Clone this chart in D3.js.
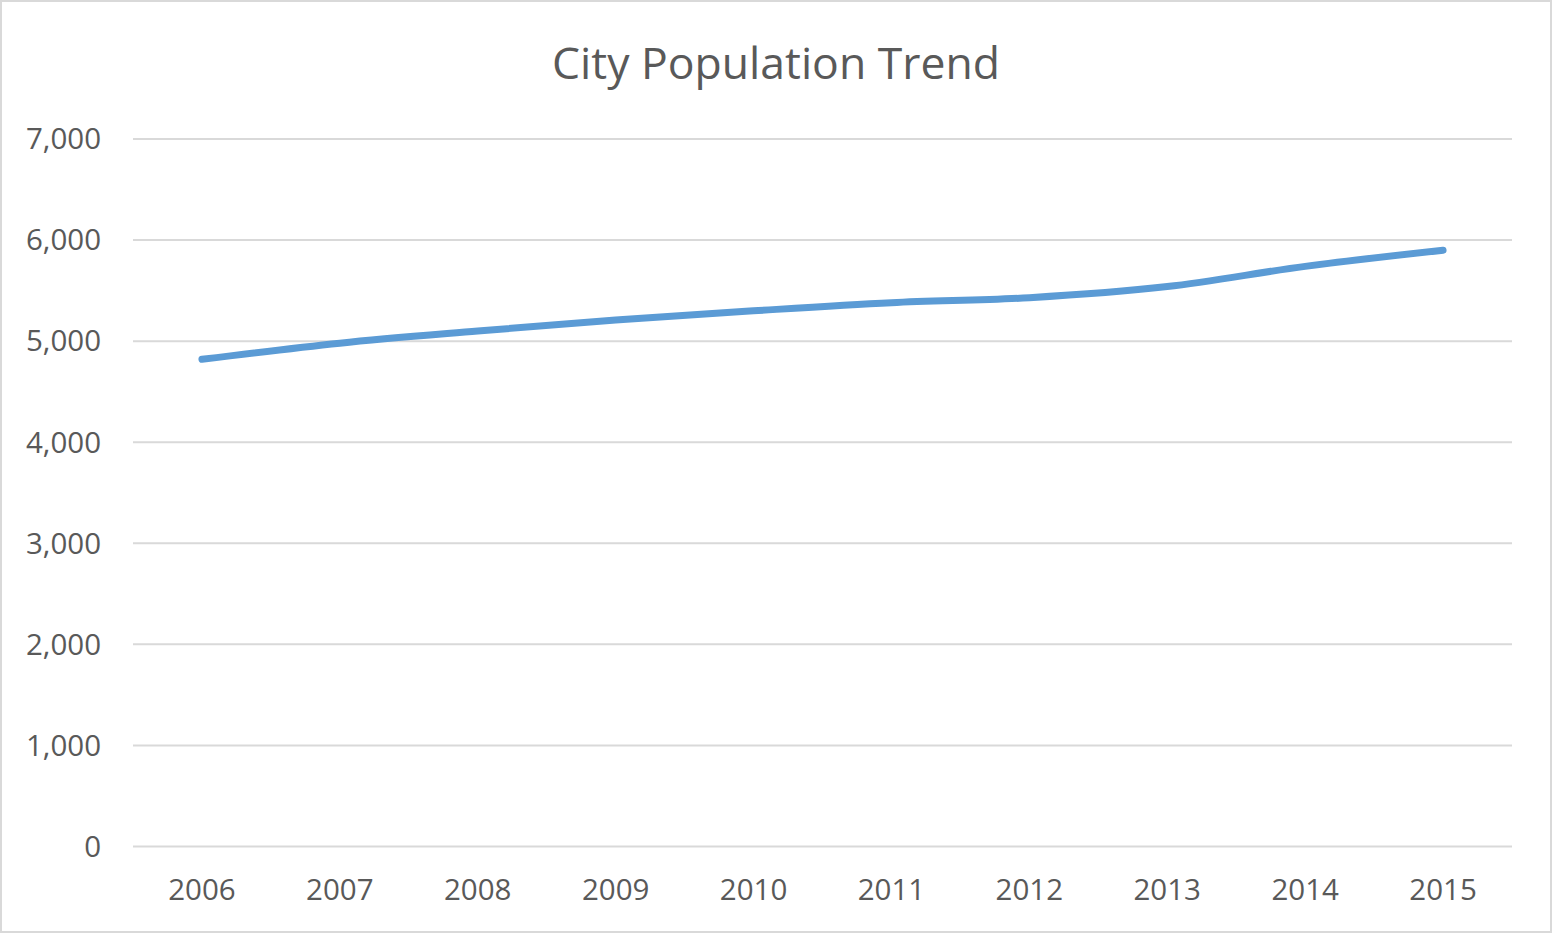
<!DOCTYPE html>
<html>
<head>
<meta charset="utf-8">
<script src="https://cdn.jsdelivr.net/npm/d3@7"></script>
<style>
  body { margin: 0; background: #fff; }
  text { font-family: "Open Sans", sans-serif; fill: #595959; }
</style>
</head>
<body>
<svg></svg>
<script>
var width = 1552;
var height = 933;

// data
var years = ["2006", "2007", "2008", "2009", "2010", "2011", "2012", "2013", "2014", "2015"];
var population = [4820, 4980, 5100, 5210, 5300, 5380, 5430, 5540, 5740, 5900];
var yTicks = [0, 1000, 2000, 3000, 4000, 5000, 6000, 7000];

var margin = {top: 139, right: 40, bottom: 87, left: 133};

var svg = d3.select("svg")
    .attr("width", width)
    .attr("height", height);

// chart frame
svg.append("rect")
    .attr("x", 1).attr("y", 1)
    .attr("width", width - 2).attr("height", height - 2)
    .attr("fill", "#fff")
    .attr("stroke", "#D9D9D9")
    .attr("stroke-width", 2);

var x = d3.scaleBand()
    .domain(years)
    .range([margin.left, width - margin.right]);

var y = d3.scaleLinear()
    .domain([0, 7000])
    .range([height - margin.bottom + 0.5, margin.top]);

// gridlines
svg.append("g")
    .selectAll("line")
    .data(yTicks)
    .enter()
    .append("line")
    .attr("x1", margin.left).attr("x2", width - margin.right)
    .attr("y1", d => y(d)).attr("y2", d => y(d))
    .attr("stroke", "#D9D9D9")
    .attr("stroke-width", 2);

// y labels
svg.append("g")
    .selectAll("text")
    .data(yTicks)
    .enter()
    .append("text")
    .attr("x", 101)
    .attr("y", d => y(d))
    .attr("dy", "0.35em")
    .attr("text-anchor", "end")
    .style("font-size", "29.5px")
    .text(d3.format(","));

// x labels
svg.append("g")
    .selectAll("text")
    .data(years)
    .enter()
    .append("text")
    .attr("x", d => x(d) + x.bandwidth() / 2)
    .attr("y", 900)
    .attr("text-anchor", "middle")
    .style("font-size", "29.5px")
    .text(d => d);

// line
var line = d3.line()
    .x((d, i) => x(years[i]) + x.bandwidth() / 2)
    .y(d => y(d))
    .curve(d3.curveCardinal.tension(0));

svg.append("path")
    .datum(population)
    .attr("d", line)
    .attr("fill", "none")
    .attr("stroke", "#5B9BD5")
    .attr("stroke-width", 7)
    .attr("stroke-linecap", "round");

// title
svg.append("text")
    .attr("x", 776)
    .attr("y", 79)
    .attr("text-anchor", "middle")
    .style("font-size", "44.5px")
    .text("City Population Trend");
</script>
</body>
</html>
